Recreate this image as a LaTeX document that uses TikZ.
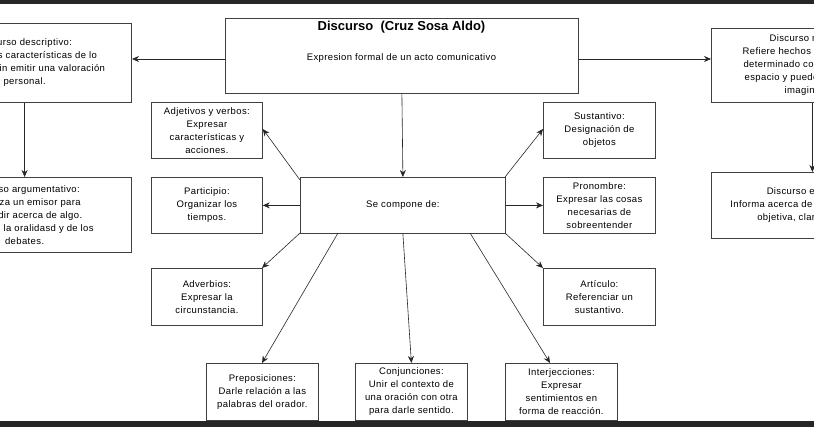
\documentclass[tikz,border=0pt]{standalone}
\usepackage{fontspec}
\setmainfont{Liberation Sans}[LetterSpace=4]
\newfontfamily\titlefont{Liberation Sans}
\usetikzlibrary{arrows.meta}
\begin{document}
\begin{tikzpicture}[x=1pt,y=-1pt,
 bx/.style={draw=black!75,line width=0.8pt,fill=white,align=center,font=\fontsize{9.5}{13}\selectfont,inner sep=1pt},
 ar/.style={-{Stealth[length=7pt,width=6pt]},line width=0.6pt,black!85}]
\useasboundingbox (0,0) rectangle (814,427);
\clip (0,0) rectangle (814,427);
\fill[black!85] (0,0) rectangle (814,4);
\fill[black!85] (0,421) rectangle (814,427);
\node[bx,minimum width=353,minimum height=75,anchor=north west] (t) at (225,18) {};
\node[font=\titlefont\bfseries\fontsize{13}{15}\selectfont] (tt) at (401.5,27) {Discurso\ \ (Cruz Sosa Aldo)};
\node[font=\fontsize{9.5}{12}\selectfont] (ts) at (401.5,58) {Expresion formal de un acto comunicativo};
\node[bx,minimum width=214,minimum height=79,anchor=north east] (d) at (132,23) {Discurso descriptivo:\\Mostrar las características de lo\\observado sin emitir una valoración\\personal.};
\node[bx,minimum width=214,minimum height=75,anchor=north east] (a) at (132,177) {Discurso argumentativo:\\Se utiliza un emisor para\\persuadir acerca de algo.\\Se usa en la oralidasd y de los\\debates.};
\node[bx,minimum width=202,minimum height=74,anchor=north west] (n) at (711,28) {Discurso narrativo:\\Refiere hechos que ocurren en\\determinado contexto, tiempo,\\espacio y pueden ser reales o\\imaginarios.};
\node[bx,minimum width=202,minimum height=66,anchor=north west] (i) at (711,172) {Discurso expositivo:\\Informa acerca de un tema de forma\\objetiva, clara y precisa.};
\node[bx,minimum width=205,minimum height=56,anchor=north west] (s) at (300,177) {Se compone de:};
\node[bx,minimum width=111,minimum height=56,anchor=north west] (adj) at (151,102) {Adjetivos y verbos:\\Expresar\\características y\\acciones.};
\node[bx,minimum width=111,minimum height=56,anchor=north west] (par) at (151,177) {Participio:\\Organizar los\\tiempos.};
\node[bx,minimum width=111,minimum height=57,anchor=north west] (adv) at (151,268) {Adverbios:\\Expresar la\\circunstancia.};
\node[bx,minimum width=112,minimum height=56,anchor=north west] (sus) at (543,102) {Sustantivo:\\Designación de\\objetos};
\node[bx,minimum width=112,minimum height=56,anchor=north west] (pro) at (543,177) {Pronombre:\\Expresar las cosas\\necesarias de\\sobreentender};
\node[bx,minimum width=112,minimum height=57,anchor=north west] (art) at (543,268) {Artículo:\\Referenciar un\\sustantivo.};
\node[bx,minimum width=112,minimum height=57,anchor=north west] (pre) at (206,363) {Preposiciones:\\Darle relación a las\\palabras del orador.};
\node[bx,minimum width=112,minimum height=57,anchor=north west] (con) at (355,363) {Conjunciones:\\Unir el contexto de\\una oración con otra\\para darle sentido.};
\node[bx,minimum width=112,minimum height=57,anchor=north west] (int) at (505,363) {Interjecciones:\\Expresar\\sentimientos en\\forma de reacción.};
\draw[ar] (t.west |- 0,59) -- (d.east |- 0,59);
\draw[ar] (t.east |- 0,59) -- (n.west |- 0,59);
\draw[ar] (t.south) -- (s.north);
\draw[ar] (d.south) -- (a.north);
\draw[ar] (n.south) -- (i.north);
\draw[ar] (300,180) -- (adj.east |- 0,129);
\draw[ar] (s.west) -- (par.east);
\draw[ar] (300,233) -- (262,268);
\draw[ar] (338,233) -- (262,363);
\draw[ar] (s.south) -- (con.north);
\draw[ar] (470,233) -- (550,363);
\draw[ar] (505,233) -- (543,268);
\draw[ar] (s.east) -- (pro.west);
\draw[ar] (505,177) -- (543,129);
\end{tikzpicture}
\end{document}
